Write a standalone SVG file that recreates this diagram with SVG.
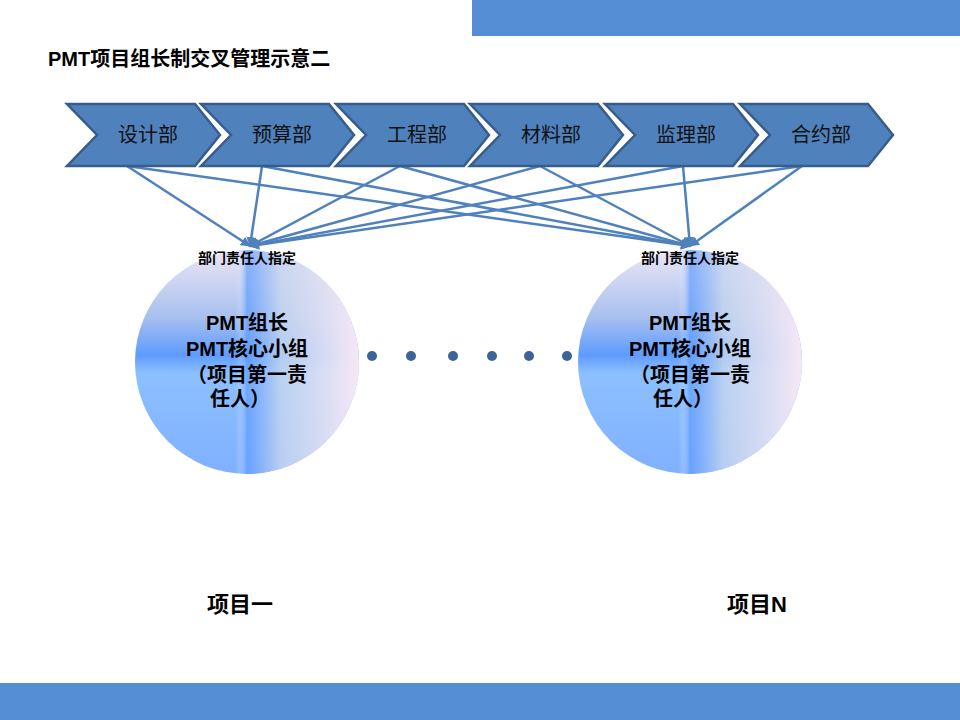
<svg xmlns="http://www.w3.org/2000/svg" width="960" height="720" viewBox="0 0 960 720">
<style>
.ch{fill:#4f81bd;stroke:#385d8a;stroke-width:2.5}
.cht{font-family:"Noto Sans CJK SC",sans-serif;font-size:20px;fill:#111;text-anchor:middle}
.cn{stroke:#4f81bd;stroke-width:2.5;fill:none;marker-end:url(#ah)}
.b{font-family:"Liberation Sans","Noto Sans CJK SC",sans-serif;font-weight:bold;fill:#000;text-anchor:middle}
.dot{fill:#3c6496}
</style>
<defs>
<marker id="ah" viewBox="0 0 10 10" refX="9" refY="5" markerWidth="4" markerHeight="4" orient="auto"><path d="M0,0L10,5L0,10z" fill="#4f81bd"/></marker>
<linearGradient id="gv" x1="0" y1="0" x2="0" y2="1">
<stop offset="0" stop-color="#ece6f6"/><stop offset="0.3" stop-color="#a8c0ee"/><stop offset="0.47" stop-color="#5e9bff"/><stop offset="0.55" stop-color="#8cc0ff"/><stop offset="1" stop-color="#80b0ff"/>
</linearGradient>
<linearGradient id="gh" x1="0" y1="0" x2="1" y2="0">
<stop offset="0" stop-color="#fff" stop-opacity="0"/><stop offset="0.45" stop-color="#fff" stop-opacity="0"/><stop offset="0.5" stop-color="#5e9bff" stop-opacity="0.7"/><stop offset="0.65" stop-color="#c6d6ee" stop-opacity="0.8"/><stop offset="1" stop-color="#f6e8f6" stop-opacity="1"/>
</linearGradient>
</defs>
<rect x="472" y="0" width="488" height="36" fill="#558ed5"/>
<rect x="0" y="683" width="960" height="37" fill="#558ed5"/>
<text x="48" y="66" font-family="Liberation Sans,'Noto Sans CJK SC',sans-serif" font-weight="bold" font-size="20">PMT项目组长制交叉管理示意二</text>
<g id="connectors">
<path class="cn" d="M127,166L250,246"/><path class="cn" d="M127,166L690,246"/>
<path class="cn" d="M262,166L250,246"/><path class="cn" d="M262,166L690,246"/>
<path class="cn" d="M400,166L250,246"/><path class="cn" d="M400,166L690,246"/>
<path class="cn" d="M540,166L250,246"/><path class="cn" d="M540,166L690,246"/>
<path class="cn" d="M683,166L250,246"/><path class="cn" d="M683,166L690,246"/>
<path class="cn" d="M802,166L250,246"/><path class="cn" d="M802,166L690,246"/>
</g>
<g id="d1"><polygon class="ch" points="67,104 195,104 220,135 195,166 67,166 97,135"/><text class="cht" x="148" y="142">设计部</text></g>
<g id="d2"><polygon class="ch" points="201,104 329,104 354,135 329,166 201,166 231,135"/><text class="cht" x="282" y="142">预算部</text></g>
<g id="d3"><polygon class="ch" points="336,104 464,104 489,135 464,166 336,166 366,135"/><text class="cht" x="417" y="142">工程部</text></g>
<g id="d4"><polygon class="ch" points="470,104 598,104 623,135 598,166 470,166 500,135"/><text class="cht" x="551" y="142">材料部</text></g>
<g id="d5"><polygon class="ch" points="605,104 733,104 758,135 733,166 605,166 635,135"/><text class="cht" x="686" y="142">监理部</text></g>
<g id="d6"><polygon class="ch" points="740,104 868,104 893,135 868,166 740,166 770,135"/><text class="cht" x="821" y="142">合约部</text></g>
<g id="p1">
<circle cx="247" cy="362" r="112" fill="url(#gv)"/><circle cx="247" cy="362" r="112" fill="url(#gh)"/>
<text class="b" x="247" y="263" font-size="14">部门责任人指定</text>
<text class="b" x="247" y="330" font-size="20">PMT组长</text>
<text class="b" x="247" y="356" font-size="20">PMT核心小组</text>
<text class="b" x="247" y="382" font-size="20">（项目第一责</text>
<text class="b" x="240" y="406" font-size="20">任人）</text>
<text class="b" x="240" y="612" font-size="22">项目一</text>
</g>
<g id="p2">
<circle cx="690" cy="362" r="112" fill="url(#gv)"/><circle cx="690" cy="362" r="112" fill="url(#gh)"/>
<text class="b" x="690" y="263" font-size="14">部门责任人指定</text>
<text class="b" x="690" y="330" font-size="20">PMT组长</text>
<text class="b" x="690" y="356" font-size="20">PMT核心小组</text>
<text class="b" x="690" y="382" font-size="20">（项目第一责</text>
<text class="b" x="683" y="406" font-size="20">任人）</text>
<text class="b" x="757" y="612" font-size="22">项目N</text>
</g>
<g id="dots">
<circle class="dot" cx="372" cy="356" r="5"/><circle class="dot" cx="411" cy="356" r="5"/><circle class="dot" cx="453" cy="356" r="5"/><circle class="dot" cx="492" cy="356" r="5"/><circle class="dot" cx="529" cy="356" r="5"/><circle class="dot" cx="567" cy="356" r="5"/>
</g>
</svg>
